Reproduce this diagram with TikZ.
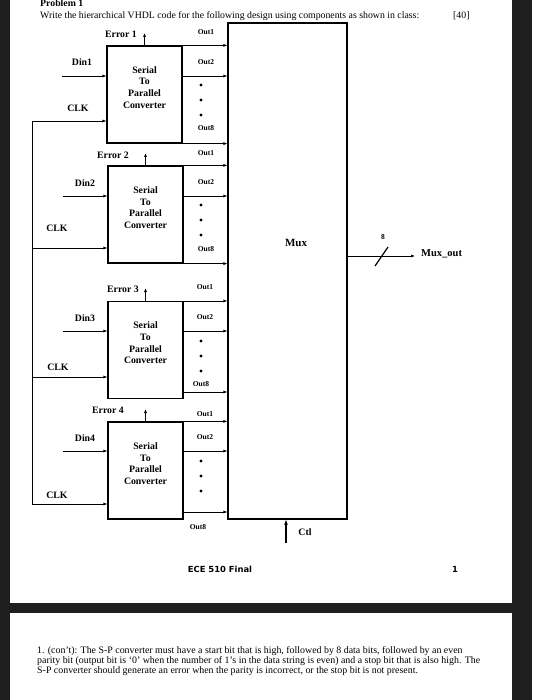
\documentclass[tikz,border=0pt]{standalone}
\usepackage{fontspec}
\setmainfont{Liberation Serif}
\newfontfamily\piefont{DejaVu Sans}
\usetikzlibrary{arrows.meta}

\begin{document}
\begin{tikzpicture}[x=1pt,y=-1pt,
    bloque/.style={draw,line width=1.2pt,minimum width=75pt,minimum height=97pt,inner sep=0pt},
    senal/.style={line width=0.7pt,-{Latex[length=4pt,width=3pt]}},
    etiq/.style={font=\fontsize{9.8}{11.7}\selectfont\bfseries,inner sep=0pt},
    salida/.style={font=\fontsize{7.5}{8}\selectfont\bfseries,inner sep=0pt},
    texto/.style={anchor=base west,inner sep=0pt,font=\fontsize{9.9}{10}\selectfont},
    punto/.style={circle,fill,inner sep=0pt,minimum size=3.4pt}]
    % Hojas
    \useasboundingbox (0,0) rectangle (532,700);
    \fill[black!88] (0,0) rectangle (532,700);
    \fill[white] (10,0) rectangle (512,603);
    \fill[white] (10,613) rectangle (512,700);

    % Enunciado
    \node[texto,font=\fontsize{9.8}{11}\selectfont\bfseries] (prob) at (40,7) {Problem 1};
    \node[texto,font=\fontsize{9.8}{11}\selectfont] (enun) at (40,19) {Write the hierarchical VHDL code for the following design using components as shown in class:};
    \node[texto,font=\fontsize{9.8}{11}\selectfont] (pts) at (453,19) {[40]};

    % Multiplexor
    \node[draw,line width=1.2pt,minimum width=119pt,minimum height=496pt,inner sep=0pt] (mux) at (287.5,271) {};
    \node[etiq,font=\fontsize{11}{13}\selectfont\bfseries] (muxlab) at (296,243) {Mux};

    % Convertidor 1
    \node[bloque] (c1) at (144.5,94.5) {};
    \node[etiq,align=center] (t1) at (144.5,87.5) {Serial\\To\\Parallel\\Converter};
    \node[etiq] (err1) at (121,34) {Error 1};
    \coordinate (e1) at (144.5,33);
    \draw[senal] (c1.north) -- (e1);
    \node[etiq] (din1lab) at (82,62) {Din1};
    \coordinate (din1) at (62,76);
    \draw[senal] (din1) -- (din1 -| c1.west);
    \node[etiq] (clk1lab) at (78,108) {CLK};
    \coordinate (clk1) at (32,121);
    \draw[senal] (clk1) -- (clk1 -| c1.west);
    \draw[senal] (c1.north east) -- (c1.north east -| mux.west);
    \draw[senal] (din1 -| c1.east) -- (din1 -| mux.west);
    \draw[senal] (c1.south east) -- (c1.south east -| mux.west);
    \node[salida] (o11) at (206,32) {Out1};
    \node[salida] (o12) at (206,62) {Out2};
    \node[salida] (o18) at (206,128) {Out8};
    \node[punto] (p11) at (201,85) {};
    \node[punto] (p12) at (201,100) {};
    \node[punto] (p13) at (201,115) {};

    % Convertidor 2
    \node[bloque] (c2) at (145.5,214.5) {};
    \node[etiq,align=center] (t2) at (145.5,207.5) {Serial\\To\\Parallel\\Converter};
    \node[etiq] (err2) at (113,155) {Error 2};
    \coordinate (e2) at (145.5,153);
    \draw[senal] (c2.north) -- (e2);
    \node[etiq] (din2lab) at (85,183) {Din2};
    \coordinate (din2) at (63,196);
    \draw[senal] (din2) -- (din2 -| c2.west);
    \node[etiq] (clk2lab) at (57,228) {CLK};
    \coordinate (clk2) at (32,248);
    \draw[senal] (clk2) -- (clk2 -| c2.west);
    \draw[senal] (c2.north east) -- (c2.north east -| mux.west);
    \draw[senal] (din2 -| c2.east) -- (din2 -| mux.west);
    \draw[senal] (c2.south east) -- (c2.south east -| mux.west);
    \node[salida] (o21) at (206,153) {Out1};
    \node[salida] (o22) at (206,182) {Out2};
    \node[salida] (o28) at (206,249) {Out8};
    \node[punto] (p21) at (201,205) {};
    \node[punto] (p22) at (201,220) {};
    \node[punto] (p23) at (201,235) {};

    % Convertidor 3
    \node[bloque] (c3) at (145.5,350) {};
    \node[etiq,align=center] (t3) at (145.5,343) {Serial\\To\\Parallel\\Converter};
    \node[etiq] (err3) at (123,289) {Error 3};
    \coordinate (e3) at (145.5,288);
    \draw[senal] (c3.north) -- (e3);
    \node[etiq] (din3lab) at (85,318) {Din3};
    \coordinate (din3) at (63,331);
    \draw[senal] (din3) -- (din3 -| c3.west);
    \node[etiq] (clk3lab) at (58,367) {CLK};
    \coordinate (clk3) at (32,377);
    \draw[senal] (clk3) -- (clk3 -| c3.west);
    \coordinate (s3) at (200,392);
    \draw[senal] (c3.north east) -- (c3.north east -| mux.west);
    \draw[senal] (din3 -| c3.east) -- (din3 -| mux.west);
    \draw[senal] (s3 -| c3.east) -- (s3 -| mux.west);
    \node[salida] (o31) at (205,287) {Out1};
    \node[salida] (o32) at (205,317) {Out2};
    \node[salida] (o38) at (201,384) {Out8};
    \node[punto] (p31) at (201,341) {};
    \node[punto] (p32) at (201,356) {};
    \node[punto] (p33) at (201,371) {};

    % Convertidor 4
    \node[bloque] (c4) at (145.5,470.5) {};
    \node[etiq,align=center] (t4) at (145.5,463.5) {Serial\\To\\Parallel\\Converter};
    \node[etiq] (err4) at (108,410) {Error 4};
    \coordinate (e4) at (145.5,409);
    \draw[senal] (c4.north) -- (e4);
    \node[etiq] (din4lab) at (85,438) {Din4};
    \coordinate (din4) at (63,451);
    \draw[senal] (din4) -- (din4 -| c4.west);
    \node[etiq] (clk4lab) at (57,495) {CLK};
    \coordinate (clk4) at (32,504);
    \draw[senal] (clk4) -- (clk4 -| c4.west);
    \coordinate (s4) at (200,512);
    \draw[senal] (c4.north east) -- (c4.north east -| mux.west);
    \draw[senal] (din4 -| c4.east) -- (din4 -| mux.west);
    \draw[senal] (s4 -| c4.east) -- (s4 -| mux.west);
    \node[salida] (o41) at (205,414) {Out1};
    \node[salida] (o42) at (205,437) {Out2};
    \node[salida] (o48) at (198,527) {Out8};
    \node[punto] (p41) at (201,461) {};
    \node[punto] (p42) at (201,476) {};
    \node[punto] (p43) at (201,491) {};

    % Reloj comun
    \draw[line width=0.7pt] (clk1) -- (clk4);

    % Salida del multiplexor
    \coordinate (mo) at (415,256);
    \draw[senal] (mo -| mux.east) -- (mo);
    \coordinate (bar1) at (375,266);
    \coordinate (bar2) at (388,247);
    \draw[line width=1.2pt] (bar1) -- (bar2);
    \node[etiq,font=\fontsize{7.5}{8}\selectfont\bfseries] (ancho) at (383,237) {8};
    \node[etiq,anchor=west,font=\fontsize{10.5}{12}\selectfont\bfseries] (mout) at (421,254) {Mux\_out};

    % Control
    \coordinate (ctl) at (286,543);
    \draw[line width=1.8pt,-{Latex[length=5pt,width=4pt]}] (ctl) -- (ctl |- mux.south);
    \node[etiq] (ctllab) at (305,532) {Ctl};

    % Pie de pagina
    \node[inner sep=0pt,font=\piefont\fontsize{8.4}{10}\selectfont\bfseries] (pie) at (220,569) {ECE 510 Final};
    \node[inner sep=0pt,font=\piefont\fontsize{8.4}{10}\selectfont\bfseries] (pag) at (455,569) {1};

    % Segunda hoja
    \node[texto] (l1) at (37,653) {1. (con’t): The S-P converter must have a start bit that is high, followed by 8 data bits, followed by an even};
    \node[texto] (l2) at (37,663) {parity bit (output bit is ‘0’ when the number of 1’s in the data string is even) and a stop bit that is also high. The};
    \node[texto] (l3) at (37,673) {S-P converter should generate an error when the parity is incorrect, or the stop bit is not present.};
\end{tikzpicture}
\end{document}
